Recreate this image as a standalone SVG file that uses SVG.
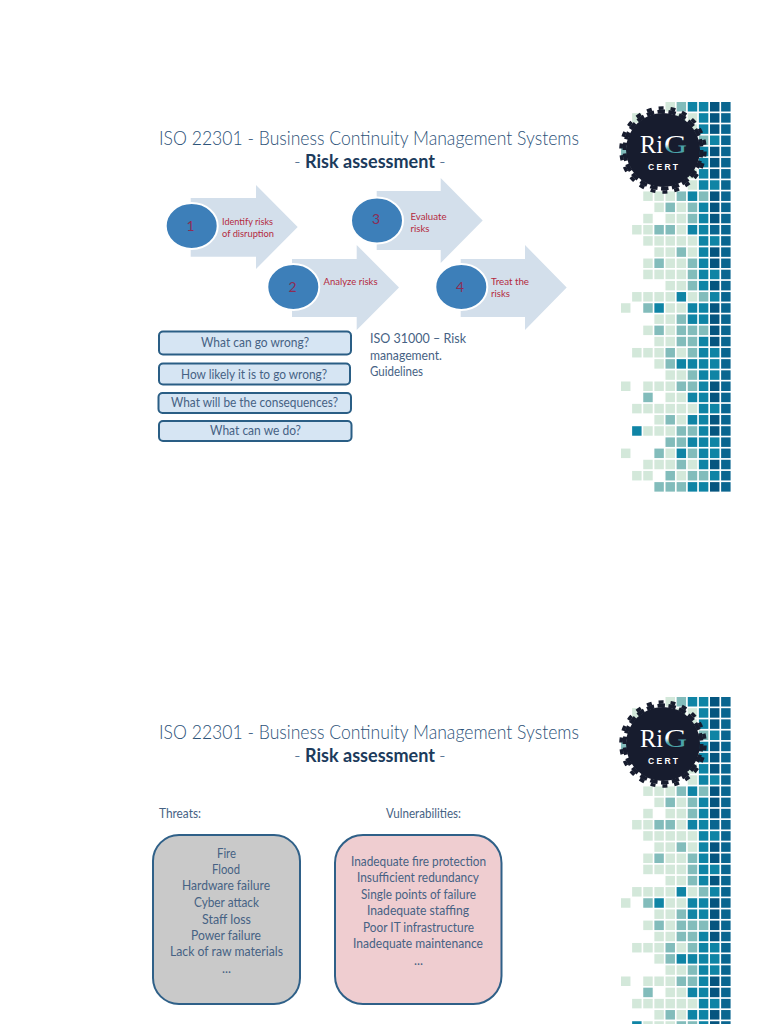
<svg xmlns="http://www.w3.org/2000/svg" width="768" height="1024" viewBox="0 0 768 1024">
<style>
text{font-family:"Lato","Liberation Sans",sans-serif;fill:#45618a}
.t{font-size:19px;font-weight:300;fill:#2c5278}
.s{font-size:18px;font-weight:300;fill:#2c5278}
.sb{font-size:18px;font-weight:700;fill:#1c3b5c}
.b{font-size:13.5px;fill:#466284}
.l{font-size:10px;fill:#b32a3e}
.n{font-size:14px;fill:#8c2d55;text-anchor:middle}
.rig{font-family:"Liberation Serif",serif;font-size:25px;fill:#fff}
.cert{font-family:"Liberation Sans",sans-serif;font-size:8.500px;font-weight:700;fill:#fff}
.arrow{fill:#d3dfeb}
.num{fill:#3d7fb9;stroke:#fff;stroke-width:2}
.q{fill:#d6e5f3;stroke:#2a5e85;stroke-width:2}
.box{stroke:#2f6088;stroke-width:2}
#cells rect{width:.85px;height:.85px}
.a{fill:#d3e8da}.c-b{fill:#82bcbb}.c{fill:#0f84a5}.d{fill:#05557f}.e{fill:#0a6690}
</style>
<defs>
<linearGradient id="gg" x1="0" y1="0" x2="0.300" y2="1"><stop offset=".5" stop-color="#fff"/><stop offset=".68" stop-color="#4aa3a8"/></linearGradient>
<g id="cells" transform="translate(621 102) scale(11.125 11.18)">
<rect class="a" x="4" y="0"/><rect class="c-b" x="5" y="0"/><rect class="c" x="6" y="0"/><rect class="c" x="7" y="0"/><rect class="d" x="8" y="0"/><rect class="e" x="9" y="0"/>
<rect class="a" x="1" y="1"/><rect class="a" x="5" y="1"/><rect class="a" x="6" y="1"/><rect class="c" x="7" y="1"/><rect class="d" x="8" y="1"/><rect class="e" x="9" y="1"/>
<rect class="a" x="6" y="2"/><rect class="c" x="7" y="2"/><rect class="d" x="8" y="2"/><rect class="e" x="9" y="2"/>
<rect class="c-b" x="7" y="3"/><rect class="c" x="8" y="3"/><rect class="e" x="9" y="3"/>
<rect class="c-b" x="0" y="4"/><rect class="c" x="7" y="4"/><rect class="d" x="8" y="4"/><rect class="e" x="9" y="4"/>
<rect class="c" x="7" y="5"/><rect class="d" x="8" y="5"/><rect class="e" x="9" y="5"/>
<rect class="a" x="6" y="6"/><rect class="c" x="7" y="6"/><rect class="d" x="8" y="6"/><rect class="e" x="9" y="6"/>
<rect class="a" x="6" y="7"/><rect class="c" x="7" y="7"/><rect class="c" x="8" y="7"/><rect class="e" x="9" y="7"/>
<rect class="a" x="2" y="8"/><rect class="a" x="3" y="8"/><rect class="a" x="4" y="8"/><rect class="c-b" x="5" y="8"/><rect class="c" x="6" y="8"/><rect class="c-b" x="7" y="8"/><rect class="d" x="8" y="8"/><rect class="e" x="9" y="8"/>
<rect class="a" x="3" y="9"/><rect class="c-b" x="4" y="9"/><rect class="a" x="5" y="9"/><rect class="c-b" x="6" y="9"/><rect class="c" x="7" y="9"/><rect class="d" x="8" y="9"/><rect class="e" x="9" y="9"/>
<rect class="a" x="2" y="10"/><rect class="a" x="4" y="10"/><rect class="a" x="5" y="10"/><rect class="c-b" x="6" y="10"/><rect class="c" x="7" y="10"/><rect class="d" x="8" y="10"/><rect class="e" x="9" y="10"/>
<rect class="a" x="1" y="11"/><rect class="a" x="2" y="11"/><rect class="c-b" x="3" y="11"/><rect class="c-b" x="4" y="11"/><rect class="a" x="5" y="11"/><rect class="c" x="6" y="11"/><rect class="c" x="7" y="11"/><rect class="e" x="8" y="11"/><rect class="e" x="9" y="11"/>
<rect class="a" x="2" y="12"/><rect class="a" x="3" y="12"/><rect class="a" x="4" y="12"/><rect class="a" x="5" y="12"/><rect class="a" x="6" y="12"/><rect class="c" x="7" y="12"/><rect class="c" x="8" y="12"/><rect class="e" x="9" y="12"/>
<rect class="a" x="3" y="13"/><rect class="a" x="4" y="13"/><rect class="c-b" x="5" y="13"/><rect class="a" x="6" y="13"/><rect class="c" x="7" y="13"/><rect class="d" x="8" y="13"/><rect class="e" x="9" y="13"/>
<rect class="a" x="2" y="14"/><rect class="c-b" x="3" y="14"/><rect class="a" x="4" y="14"/><rect class="a" x="5" y="14"/><rect class="c-b" x="6" y="14"/><rect class="c" x="7" y="14"/><rect class="d" x="8" y="14"/><rect class="e" x="9" y="14"/>
<rect class="a" x="2" y="15"/><rect class="a" x="3" y="15"/><rect class="a" x="4" y="15"/><rect class="a" x="5" y="15"/><rect class="c-b" x="6" y="15"/><rect class="c" x="7" y="15"/><rect class="c" x="8" y="15"/><rect class="e" x="9" y="15"/>
<rect class="a" x="4" y="16"/><rect class="a" x="5" y="16"/><rect class="c-b" x="6" y="16"/><rect class="c" x="7" y="16"/><rect class="d" x="8" y="16"/><rect class="e" x="9" y="16"/>
<rect class="a" x="1" y="17"/><rect class="a" x="2" y="17"/><rect class="a" x="3" y="17"/><rect class="a" x="4" y="17"/><rect class="c" x="5" y="17"/><rect class="a" x="6" y="17"/><rect class="c-b" x="7" y="17"/><rect class="c" x="8" y="17"/><rect class="e" x="9" y="17"/>
<rect class="a" x="0" y="18"/><rect class="c-b" x="2" y="18"/><rect class="c" x="3" y="18"/><rect class="a" x="4" y="18"/><rect class="a" x="5" y="18"/><rect class="c" x="6" y="18"/><rect class="c" x="7" y="18"/><rect class="d" x="8" y="18"/><rect class="e" x="9" y="18"/>
<rect class="a" x="3" y="19"/><rect class="a" x="4" y="19"/><rect class="c-b" x="5" y="19"/><rect class="c" x="6" y="19"/><rect class="c" x="7" y="19"/><rect class="d" x="8" y="19"/><rect class="e" x="9" y="19"/>
<rect class="a" x="2" y="20"/><rect class="c-b" x="3" y="20"/><rect class="a" x="4" y="20"/><rect class="c-b" x="5" y="20"/><rect class="c-b" x="6" y="20"/><rect class="c-b" x="7" y="20"/><rect class="d" x="8" y="20"/><rect class="e" x="9" y="20"/>
<rect class="a" x="3" y="21"/><rect class="a" x="4" y="21"/><rect class="c-b" x="5" y="21"/><rect class="c-b" x="6" y="21"/><rect class="c" x="7" y="21"/><rect class="d" x="8" y="21"/><rect class="e" x="9" y="21"/>
<rect class="a" x="1" y="22"/><rect class="a" x="2" y="22"/><rect class="a" x="3" y="22"/><rect class="c-b" x="4" y="22"/><rect class="a" x="5" y="22"/><rect class="c-b" x="6" y="22"/><rect class="c" x="7" y="22"/><rect class="c" x="8" y="22"/><rect class="e" x="9" y="22"/>
<rect class="a" x="3" y="23"/><rect class="c-b" x="4" y="23"/><rect class="c" x="5" y="23"/><rect class="c" x="6" y="23"/><rect class="c" x="7" y="23"/><rect class="c" x="8" y="23"/><rect class="e" x="9" y="23"/>
<rect class="a" x="4" y="24"/><rect class="a" x="5" y="24"/><rect class="c-b" x="6" y="24"/><rect class="c" x="7" y="24"/><rect class="c" x="8" y="24"/><rect class="e" x="9" y="24"/>
<rect class="a" x="0" y="25"/><rect class="a" x="2" y="25"/><rect class="a" x="3" y="25"/><rect class="a" x="4" y="25"/><rect class="c-b" x="5" y="25"/><rect class="c-b" x="6" y="25"/><rect class="c" x="7" y="25"/><rect class="d" x="8" y="25"/><rect class="e" x="9" y="25"/>
<rect class="c-b" x="2" y="26"/><rect class="a" x="4" y="26"/><rect class="a" x="5" y="26"/><rect class="c" x="6" y="26"/><rect class="c" x="7" y="26"/><rect class="d" x="8" y="26"/><rect class="e" x="9" y="26"/>
<rect class="a" x="1" y="27"/><rect class="a" x="2" y="27"/><rect class="a" x="3" y="27"/><rect class="a" x="4" y="27"/><rect class="a" x="5" y="27"/><rect class="a" x="6" y="27"/><rect class="c" x="7" y="27"/><rect class="c" x="8" y="27"/><rect class="e" x="9" y="27"/>
<rect class="a" x="3" y="28"/><rect class="c-b" x="4" y="28"/><rect class="a" x="5" y="28"/><rect class="c" x="6" y="28"/><rect class="c" x="7" y="28"/><rect class="d" x="8" y="28"/><rect class="e" x="9" y="28"/>
<rect class="c" x="1" y="29"/><rect class="a" x="2" y="29"/><rect class="a" x="3" y="29"/><rect class="a" x="4" y="29"/><rect class="c-b" x="5" y="29"/><rect class="c-b" x="6" y="29"/><rect class="c" x="7" y="29"/><rect class="d" x="8" y="29"/><rect class="e" x="9" y="29"/>
<rect class="c-b" x="4" y="30"/><rect class="c-b" x="5" y="30"/><rect class="c" x="6" y="30"/><rect class="c" x="7" y="30"/><rect class="c" x="8" y="30"/><rect class="e" x="9" y="30"/>
<rect class="a" x="0" y="31"/><rect class="c-b" x="3" y="31"/><rect class="a" x="4" y="31"/><rect class="c" x="5" y="31"/><rect class="c-b" x="6" y="31"/><rect class="c" x="7" y="31"/><rect class="c" x="8" y="31"/><rect class="e" x="9" y="31"/>
<rect class="a" x="2" y="32"/><rect class="a" x="3" y="32"/><rect class="a" x="4" y="32"/><rect class="c-b" x="5" y="32"/><rect class="a" x="6" y="32"/><rect class="c" x="7" y="32"/><rect class="d" x="8" y="32"/><rect class="e" x="9" y="32"/>
<rect class="a" x="1" y="33"/><rect class="a" x="2" y="33"/><rect class="c-b" x="4" y="33"/><rect class="a" x="5" y="33"/><rect class="c-b" x="6" y="33"/><rect class="c-b" x="7" y="33"/><rect class="c" x="8" y="33"/><rect class="e" x="9" y="33"/>
<rect class="c-b" x="3" y="34"/><rect class="c-b" x="4" y="34"/><rect class="c-b" x="5" y="34"/><rect class="c" x="6" y="34"/><rect class="c" x="7" y="34"/><rect class="d" x="8" y="34"/><rect class="e" x="9" y="34"/>
</g>
<g id="gear" fill="none" stroke="#171c2e">
<circle cx="663" cy="150" r="37" fill="#171c2e" stroke="none"/>
<circle cx="663" cy="150" r="38.500" stroke-width="4" pathLength="22" stroke-dasharray=".68 .32"/>
<circle cx="663" cy="150" r="42" stroke-width="3.600" pathLength="22" stroke-dasharray=".42 .58" stroke-dashoffset="-.13"/>
</g>
</defs>
<rect width="768" height="1024" fill="#fff"/>

<g id="slide1-grid"><use href="#cells"/></g>
<g id="slide1-logo"><use href="#gear"/>
<text class="rig" x="640" y="152.500" textLength="23" lengthAdjust="spacingAndGlyphs">Ri</text><text class="rig" x="664" y="152.500" textLength="23" lengthAdjust="spacingAndGlyphs" style="fill:url(#gg)">G</text>
<text class="cert" x="648" y="169.500" textLength="30">CERT</text></g>

<g id="slide1-title">
<text class="t" x="159" y="145" textLength="420" lengthAdjust="spacingAndGlyphs">ISO 22301 - Business Continuity Management Systems</text>
<text class="s" x="294" y="168">-</text><text class="sb" x="305" y="168" textLength="130" lengthAdjust="spacingAndGlyphs">Risk assessment</text><text class="s" x="439" y="168">-</text>
</g>

<g id="connectors">
<path class="arrow" d="M190.700 198H256V185L297.700 227L256 269V256.700H190.700Z"/>
<path class="arrow" d="M292 259H356.700V245L399 287.500L356.700 330V317H292Z"/>
<path class="arrow" d="M376.700 191H440.700V178L482.700 220.500L440.700 263V250H376.700Z"/>
<path class="arrow" d="M460.700 259H525V245L566.700 287.500L525 330V317H460.700Z"/>
</g>

<g id="step1"><ellipse class="num" cx="191.700" cy="226" rx="26" ry="23"/><text class="n" x="190.500" y="231">1</text><text class="l" x="222" y="224.500" textLength="51" lengthAdjust="spacingAndGlyphs">Identify risks</text><text class="l" x="222" y="236.500" textLength="52" lengthAdjust="spacingAndGlyphs">of disruption</text></g>
<g id="step2"><ellipse class="num" cx="293.300" cy="287" rx="26" ry="23"/><text class="n" x="292.500" y="292">2</text><text class="l" x="323.500" y="284.500" textLength="54" lengthAdjust="spacingAndGlyphs">Analyze risks</text></g>
<g id="step3"><ellipse class="num" cx="377" cy="220.500" rx="26" ry="23"/><text class="n" x="376" y="224">3</text><text class="l" x="410.500" y="219.500" textLength="36" lengthAdjust="spacingAndGlyphs">Evaluate</text><text class="l" x="410.500" y="231.500" textLength="19" lengthAdjust="spacingAndGlyphs">risks</text></g>
<g id="step4"><ellipse class="num" cx="461.300" cy="287" rx="26" ry="23"/><text class="n" x="460" y="292">4</text><text class="l" x="491" y="284.500" textLength="38" lengthAdjust="spacingAndGlyphs">Treat the</text><text class="l" x="491" y="296.500" textLength="19" lengthAdjust="spacingAndGlyphs">risks</text></g>

<g id="q1"><rect class="q" x="159" y="331.500" width="192" height="23" rx="4"/><text class="b" x="201" y="347" textLength="108" lengthAdjust="spacingAndGlyphs">What can go wrong?</text></g>
<g id="q2"><rect class="q" x="159" y="363.500" width="191" height="21" rx="4"/><text class="b" x="181" y="378.500" textLength="146" lengthAdjust="spacingAndGlyphs">How likely it is to go wrong?</text></g>
<g id="q3"><rect class="q" x="158.500" y="393" width="192.500" height="20" rx="4"/><text class="b" x="171" y="407" textLength="167" lengthAdjust="spacingAndGlyphs">What will be the consequences?</text></g>
<g id="q4"><rect class="q" x="159" y="421" width="192.500" height="20" rx="4"/><text class="b" x="210" y="435" textLength="91" lengthAdjust="spacingAndGlyphs">What can we do?</text></g>

<g id="iso31000">
<text class="b" x="370" y="343" textLength="96" lengthAdjust="spacingAndGlyphs">ISO 31000 – Risk</text>
<text class="b" x="370" y="359.500" textLength="72" lengthAdjust="spacingAndGlyphs">management.</text>
<text class="b" x="370" y="376" textLength="53" lengthAdjust="spacingAndGlyphs">Guidelines</text>
</g>

<g id="slide2-grid"><use href="#cells" y="595"/></g>
<g id="slide2-logo"><use href="#gear" y="594"/>
<text class="rig" x="640" y="746.500" textLength="23" lengthAdjust="spacingAndGlyphs">Ri</text><text class="rig" x="664" y="746.500" textLength="23" lengthAdjust="spacingAndGlyphs" style="fill:url(#gg)">G</text>
<text class="cert" x="648" y="763.500" textLength="30">CERT</text></g>

<g id="slide2-title">
<text class="t" x="159" y="739" textLength="420" lengthAdjust="spacingAndGlyphs">ISO 22301 - Business Continuity Management Systems</text>
<text class="s" x="294" y="762">-</text><text class="sb" x="305" y="762" textLength="130" lengthAdjust="spacingAndGlyphs">Risk assessment</text><text class="s" x="439" y="762">-</text>
</g>

<g id="threats">
<text class="b" x="159" y="818" textLength="42" lengthAdjust="spacingAndGlyphs">Threats:</text>
<rect class="box" x="153" y="835" width="147" height="169" rx="26" fill="#c9c9c9"/>
<text class="b" x="217" y="858" textLength="19" lengthAdjust="spacingAndGlyphs">Fire</text>
<text class="b" x="212" y="874" textLength="28" lengthAdjust="spacingAndGlyphs">Flood</text>
<text class="b" x="182" y="890" textLength="88" lengthAdjust="spacingAndGlyphs">Hardware failure</text>
<text class="b" x="194" y="906.500" textLength="65" lengthAdjust="spacingAndGlyphs">Cyber attack</text>
<text class="b" x="202" y="923.500" textLength="49" lengthAdjust="spacingAndGlyphs">Staff loss</text>
<text class="b" x="191" y="940" textLength="70" lengthAdjust="spacingAndGlyphs">Power failure</text>
<text class="b" x="170" y="956" textLength="113" lengthAdjust="spacingAndGlyphs">Lack of raw materials</text>
<text class="b" x="222" y="973" textLength="9" lengthAdjust="spacingAndGlyphs">...</text>
</g>

<g id="vulnerabilities">
<text class="b" x="386" y="818" textLength="75" lengthAdjust="spacingAndGlyphs">Vulnerabilities:</text>
<rect class="box" x="335" y="835" width="166.500" height="169" rx="28" fill="#efcdd0"/>
<text class="b" x="351" y="866" textLength="135" lengthAdjust="spacingAndGlyphs">Inadequate fire protection</text>
<text class="b" x="357" y="882" textLength="122" lengthAdjust="spacingAndGlyphs">Insufficient redundancy</text>
<text class="b" x="361" y="898.500" textLength="115" lengthAdjust="spacingAndGlyphs">Single points of failure</text>
<text class="b" x="367" y="915" textLength="102" lengthAdjust="spacingAndGlyphs">Inadequate staffing</text>
<text class="b" x="363" y="932" textLength="111" lengthAdjust="spacingAndGlyphs">Poor IT infrastructure</text>
<text class="b" x="353" y="948" textLength="130" lengthAdjust="spacingAndGlyphs">Inadequate maintenance</text>
<text class="b" x="414" y="965" textLength="9" lengthAdjust="spacingAndGlyphs">...</text>
</g>
</svg>
